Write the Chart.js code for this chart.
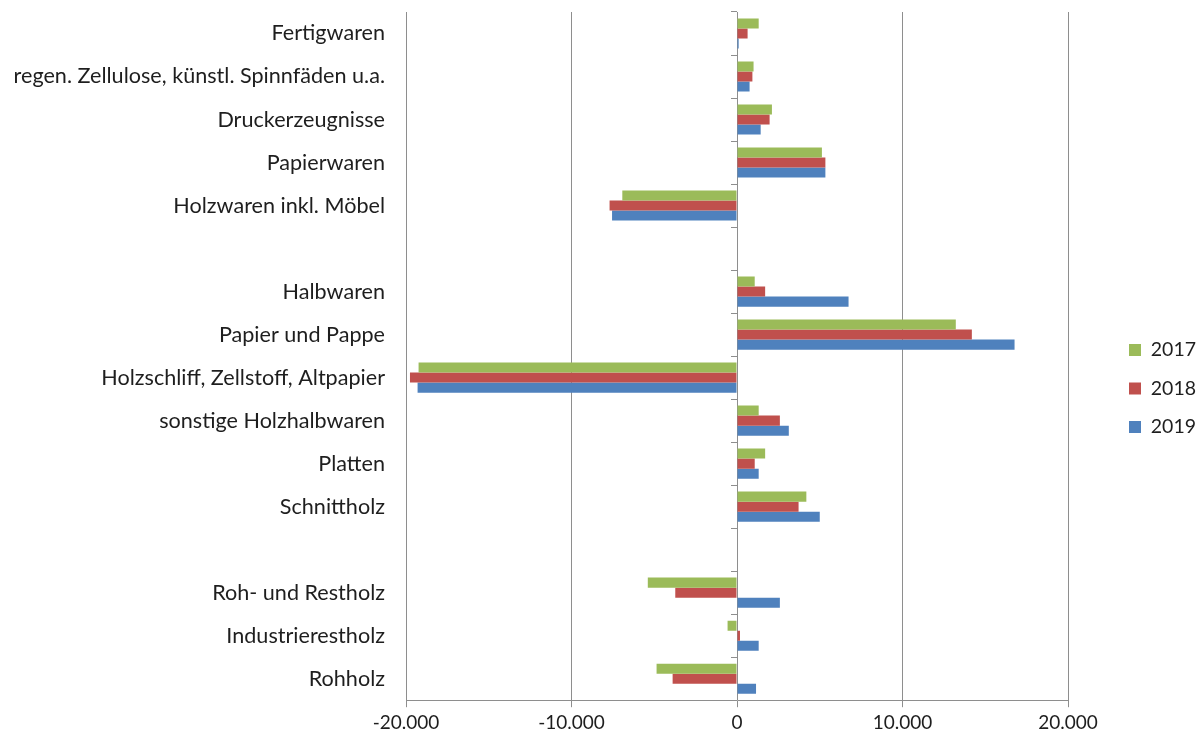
<!DOCTYPE html>
<html>
<head>
<meta charset="utf-8">
<script src="https://cdn.jsdelivr.net/npm/chart.js@4.4.1/dist/chart.umd.min.js"></script>
<style>
  html, body { margin: 0; padding: 0; background: #fff; }
  #wrap { position: relative; width: 1203px; height: 740px; }
</style>
</head>
<body>
<div id="wrap"><canvas id="chart"></canvas></div>
<script>
// categories, top to bottom ('' = empty spacer row)
const categories = [
    'Fertigwaren',
    'regen. Zellulose, künstl. Spinnfäden u.a.',
    'Druckerzeugnisse',
    'Papierwaren',
    'Holzwaren inkl. Möbel',
    '',
    'Halbwaren',
    'Papier und Pappe',
    'Holzschliff, Zellstoff, Altpapier',
    'sonstige Holzhalbwaren',
    'Platten',
    'Schnittholz',
    '',
    'Roh- und Restholz',
    'Industrierestholz',
    'Rohholz',
];

const values2017 = [1310, 1000, 2110, 5130, -6930, null, 1070, 13220, -19240, 1310, 1700, 4190, null, -5390, -570, -4860];
const values2018 = [640, 930, 1970, 5340, -7700, null, 1700, 14190, -19760, 2590, 1070, 3720, null, -3730, 180, -3890];
const values2019 = [100, 760, 1430, 5340, -7550, null, 6740, 16770, -19300, 3130, 1310, 5000, null, 2590, 1310, 1150];

const xTicks = [-20000, -10000, 0, 10000, 20000];

const gridColor = '#8e8e8e';
const textColor = '#1e1e1e';
const fontFamily = 'Lato, "Open Sans", sans-serif';

Chart.defaults.font.family = fontFamily;
Chart.defaults.font.size = 19;
Chart.defaults.color = textColor;

const ctx = document.getElementById('chart');

new Chart(ctx, {
    type: 'bar',
    data: {
        labels: categories,
        datasets: [
            { label: '2017', data: values2017, backgroundColor: '#9BBB59', yAxisID: 'y' },
            { label: '2018', data: values2018, backgroundColor: '#C0504D', yAxisID: 'y' },
            { label: '2019', data: values2019, backgroundColor: '#4F81BD', yAxisID: 'y' },
        ],
    },
    options: {
        indexAxis: 'y',
        responsive: true,
        maintainAspectRatio: false,
        animation: false,
        categoryPercentage: 0.7,
        barPercentage: 1.0,
        layout: {
            padding: { top: 12, bottom: 2, left: 0, right: -3 },
        },
        scales: {
            x: {
                min: -20000,
                max: 20000,
                afterBuildTicks: (scale) => {
                    scale.ticks = xTicks.map((v) => ({ value: v }));
                },
                ticks: {
                    padding: 4,
                    font: { size: 19 },
                    callback: (v) => Number(v).toLocaleString('de-DE'),
                },
                grid: {
                    color: gridColor,
                    lineWidth: 1,
                    tickLength: 7,
                },
                border: { display: true, color: gridColor },
            },
            y: {
                type: 'category',
                position: 'left',
                offset: true,
                grid: { display: false, drawTicks: false, offset: true },
                border: { display: false },
                ticks: { padding: 21, autoSkip: false, font: { size: 21.6 } },
                afterFit: (scale) => {
                    scale.width = 406;
                    scale.paddingTop = 0;
                    scale.paddingBottom = 0;
                },
            },
            // tick marks along the zero line
            y2: {
                type: 'category',
                position: { x: 0 },
                offset: true,
                grid: {
                    offset: true,
                    drawOnChartArea: false,
                    color: gridColor,
                    tickLength: 6,
                },
                border: { display: false },
                ticks: { display: false },
            },
            // empty spacer between plot and legend
            yGap: {
                type: 'category',
                position: 'right',
                grid: { display: false, drawTicks: false },
                border: { display: false },
                ticks: { display: false },
                afterFit: (scale) => {
                    scale.width = 42;
                },
            },
        },
        plugins: {
            legend: {
                position: 'right',
                title: {
                    display: true,
                    text: ' ',
                    font: { size: 10 },
                    padding: { top: 0, bottom: 15 },
                },
                labels: {
                    boxWidth: 12,
                    boxHeight: 12,
                    padding: 19,
                    color: textColor,
                    font: { size: 19.5 },
                },
            },
            tooltip: { enabled: false },
        },
    },
});
</script>
</body>
</html>
